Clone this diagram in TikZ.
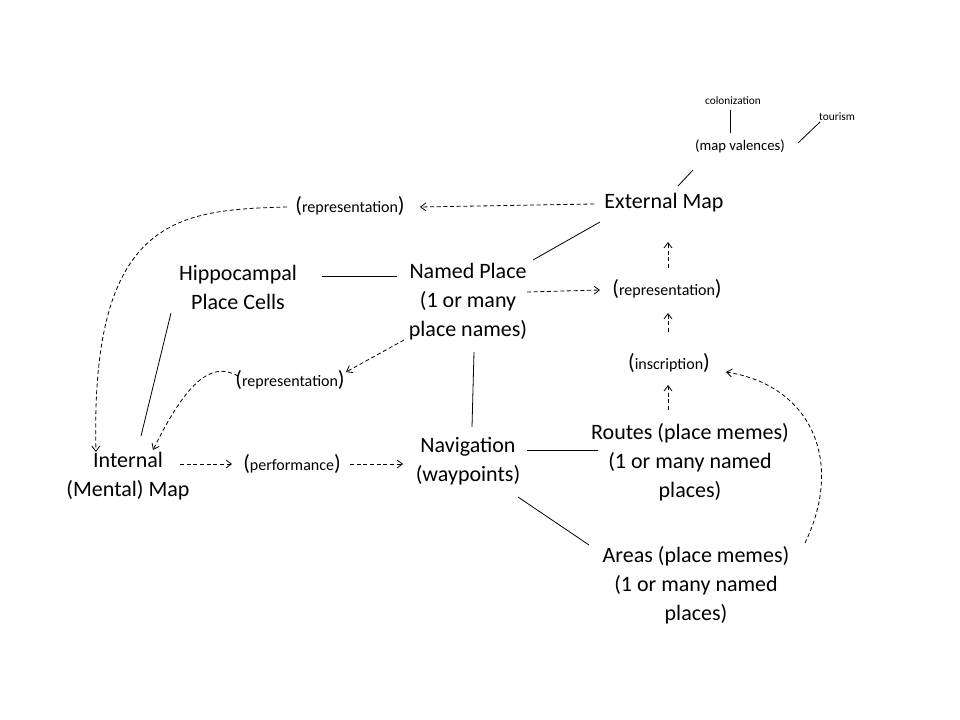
\documentclass[tikz,border=0pt]{standalone}
\usepackage{fontspec}
\setmainfont{Carlito}
\usetikzlibrary{arrows.meta}
\begin{document}
\begin{tikzpicture}[x=0.75pt,y=-0.75pt,
  big/.style={font=\fontsize{16.5}{21.8}\selectfont,align=center,inner sep=1pt},
  tiny/.style={font=\fontsize{8.5}{10}\selectfont,inner sep=1pt},
  mid/.style={font=\fontsize{11}{13}\selectfont,inner sep=1pt},
  ln/.style={line width=0.6pt},
  da/.style={line width=0.6pt,densely dashed,-{Straight Barb[length=4pt,width=6pt]}}]
\useasboundingbox[fill=white] (0,0) rectangle (960,720);
\newcommand{\rp}[1]{{\fontsize{16.5}{18}\selectfont(}{\fontsize{12}{14}\selectfont #1}{\fontsize{16.5}{18}\selectfont)}}
\node[tiny] (col) at (733,101) {colonization};
\node[tiny] (tour) at (837,117) {tourism};
\node[mid] (mv) at (740,146) {(map valences)};
\node[big] (ext) at (664,203) {External Map};
\node[big] (rtop) at (350,206) {\rp{representation}};
\node[big] (hip) at (238,287) {Hippocampal\\Place Cells};
\node[big] (np) at (468,302) {Named Place\\(1 or many\\place names)};
\node[big] (rr) at (667,289) {\rp{representation}};
\node[big] (ins) at (669,363) {\rp{inscription}};
\node[big] (rm) at (290,380) {\rp{representation}};
\node[big] (int) at (128,476) {Internal\\(Mental) Map};
\node[big] (perf) at (292,464) {\rp{performance}};
\node[big] (nav) at (468,461) {Navigation\\(waypoints)};
\node[big] (rt) at (690,462) {Routes (place memes)\\(1 or many named\\places)};
\node[big] (ar) at (696,585) {Areas (place memes)\\(1 or many named\\places)};
\coordinate (a1) at (600,222); \coordinate (a2) at (533,260);
\draw[ln] (a1) -- (a2);
\coordinate (b1) at (678,186); \coordinate (b2) at (693,170);
\draw[ln] (b1) -- (b2);
\coordinate (c1) at (730,110); \coordinate (c2) at (730,133);
\draw[ln] (c1) -- (c2);
\coordinate (d1) at (798,143); \coordinate (d2) at (820,122);
\draw[ln] (d1) -- (d2);
\coordinate (e1) at (322,276); \coordinate (e2) at (397,276);
\draw[ln] (e1) -- (e2);
\coordinate (f1) at (171,313); \coordinate (f2) at (141,436);
\draw[ln] (f1) -- (f2);
\coordinate (g1) at (474,352); \coordinate (g2) at (472,427);
\draw[ln] (g1) -- (g2);
\coordinate (h1) at (527,450); \coordinate (h2) at (598,450);
\draw[ln] (h1) -- (h2);
\coordinate (i1) at (518,497); \coordinate (i2) at (589,545);
\draw[ln] (i1) -- (i2);
% dashed
\coordinate (j1) at (594,204); \coordinate (j2) at (420,207);
\draw[da] (j1) -- (j2);
\coordinate (k1) at (287,207); \coordinate (k2) at (96,452);
\draw[da] (k1) .. controls (180,210) and (90,215) .. (k2);
\coordinate (l1) at (527,292); \coordinate (l2) at (600,290);
\draw[da] (l1) -- (l2);
\coordinate (m1) at (404,340); \coordinate (m2) at (346,372);
\draw[da] (m1) -- (m2);
\coordinate (n1) at (238,376); \coordinate (n2) at (153,450);
\draw[da] (n1) .. controls (210,360) and (185,385) .. (n2);
\coordinate (o1) at (668,410); \coordinate (o2) at (668,385);
\draw[da] (o1) -- (o2);
\coordinate (p1) at (668,332); \coordinate (p2) at (668,313);
\draw[da] (p1) -- (p2);
\coordinate (q1) at (668,268); \coordinate (q2) at (668,242);
\draw[da] (q1) -- (q2);
\coordinate (r1) at (805,543); \coordinate (r2) at (726,372);
\draw[da] (r1) .. controls (845,460) and (810,385) .. (r2);
\coordinate (s1) at (180,464); \coordinate (s2) at (232,464);
\draw[da] (s1) -- (s2);
\coordinate (t1) at (350,464); \coordinate (t2) at (403,464);
\draw[da] (t1) -- (t2);
\end{tikzpicture}
\end{document}
